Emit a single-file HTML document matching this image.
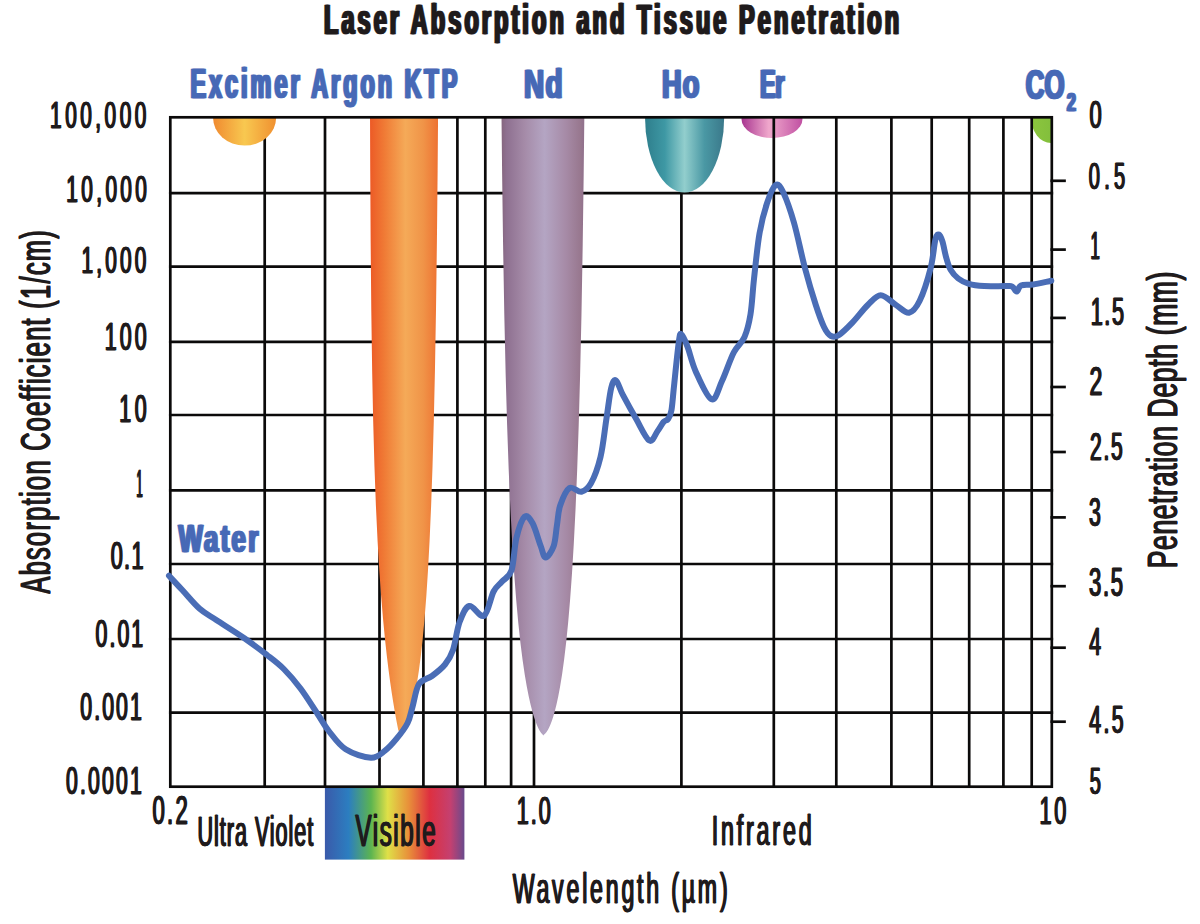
<!DOCTYPE html>
<html><head><meta charset="utf-8"><style>
html,body{margin:0;padding:0;background:#fff;}
svg{display:block;}
text{font-family:"Liberation Sans", sans-serif;}
</style></head><body>
<svg width="1200" height="924" viewBox="0 0 1200 924">
<defs>
<linearGradient id="gEx" x1="0" x2="1" y1="0" y2="0">
  <stop offset="0" stop-color="#f08a30"/><stop offset="0.5" stop-color="#f8c850"/><stop offset="1" stop-color="#f09030"/>
</linearGradient>
<linearGradient id="gKtp" x1="0" x2="1" y1="0" y2="0">
  <stop offset="0" stop-color="#ec5a26"/><stop offset="0.22" stop-color="#f07c36"/><stop offset="0.52" stop-color="#f5aa58"/>
  <stop offset="0.78" stop-color="#f09448"/><stop offset="1" stop-color="#ee7232"/>
</linearGradient>
<linearGradient id="gNd" x1="0" x2="1" y1="0" y2="0">
  <stop offset="0" stop-color="#86667f"/><stop offset="0.06" stop-color="#8e7090"/><stop offset="0.28" stop-color="#a58ba8"/><stop offset="0.52" stop-color="#b4a5c3"/>
  <stop offset="0.78" stop-color="#a68aa6"/><stop offset="0.95" stop-color="#98788f"/><stop offset="1" stop-color="#90708c"/>
</linearGradient>
<linearGradient id="gHo" x1="0" x2="1" y1="0" y2="0">
  <stop offset="0" stop-color="#2e7e8c"/><stop offset="0.25" stop-color="#3e98a4"/><stop offset="0.5" stop-color="#92cecd"/>
  <stop offset="0.75" stop-color="#4a98a4"/><stop offset="1" stop-color="#3a788a"/>
</linearGradient>
<linearGradient id="gEr" x1="0" x2="1" y1="0" y2="0">
  <stop offset="0" stop-color="#a83590"/><stop offset="0.45" stop-color="#f0a8cc"/><stop offset="1" stop-color="#c050a2"/>
</linearGradient>
<linearGradient id="gCo" x1="0" x2="1" y1="0" y2="0">
  <stop offset="0" stop-color="#8cc63e"/><stop offset="1" stop-color="#7ab83a"/>
</linearGradient>
<linearGradient id="gVis" x1="0" x2="1" y1="0" y2="0">
  <stop offset="0" stop-color="#3a5aaa"/><stop offset="0.17" stop-color="#2c7ec0"/><stop offset="0.33" stop-color="#5cb450"/>
  <stop offset="0.45" stop-color="#dfe048"/><stop offset="0.6" stop-color="#e8903a"/><stop offset="0.75" stop-color="#de3040"/>
  <stop offset="0.9" stop-color="#c44070"/><stop offset="1" stop-color="#6a4a8c"/>
</linearGradient>
<clipPath id="plot"><rect x="170.3" y="117.3" width="881.5" height="669.4"/></clipPath>
</defs>
<rect x="0" y="0" width="1200" height="924" fill="#fff"/>

<g clip-path="url(#plot)">
<ellipse cx="772" cy="119" rx="30.5" ry="19" fill="url(#gEr)"/>
<ellipse cx="1051" cy="117" rx="20" ry="26" fill="url(#gCo)"/>
</g>

<rect x="324.9" y="787.8" width="139.5" height="71.8" fill="url(#gVis)"/>
<g stroke="#0b0a0a" stroke-width="2.7" fill="none" stroke-linecap="square">
<line x1="264.7" y1="117.3" x2="264.7" y2="786.7"/>
<line x1="325.0" y1="117.3" x2="325.0" y2="786.7"/>
<line x1="379.5" y1="117.3" x2="379.5" y2="786.7"/>
<line x1="423.4" y1="117.3" x2="423.4" y2="786.7"/>
<line x1="457.4" y1="117.3" x2="457.4" y2="786.7"/>
<line x1="485.3" y1="117.3" x2="485.3" y2="786.7"/>
<line x1="511.1" y1="117.3" x2="511.1" y2="786.7"/>
<line x1="534.0" y1="117.3" x2="534.0" y2="786.7"/>
<line x1="681.4" y1="117.3" x2="681.4" y2="786.7"/>
<line x1="773.8" y1="117.3" x2="773.8" y2="786.7"/>
<line x1="836.3" y1="117.3" x2="836.3" y2="786.7"/>
<line x1="891.4" y1="117.3" x2="891.4" y2="786.7"/>
<line x1="931.7" y1="117.3" x2="931.7" y2="786.7"/>
<line x1="969.2" y1="117.3" x2="969.2" y2="786.7"/>
<line x1="1003.4" y1="117.3" x2="1003.4" y2="786.7"/>
<line x1="1031.7" y1="117.3" x2="1031.7" y2="786.7"/>
<line x1="170.3" y1="193.2" x2="1051.8" y2="193.2"/>
<line x1="170.3" y1="266.7" x2="1051.8" y2="266.7"/>
<line x1="170.3" y1="341.8" x2="1051.8" y2="341.8"/>
<line x1="170.3" y1="415.0" x2="1051.8" y2="415.0"/>
<line x1="170.3" y1="490.4" x2="1051.8" y2="490.4"/>
<line x1="170.3" y1="564.0" x2="1051.8" y2="564.0"/>
<line x1="170.3" y1="639.0" x2="1051.8" y2="639.0"/>
<line x1="170.3" y1="712.6" x2="1051.8" y2="712.6"/>
<line x1="1051.8" y1="180.8" x2="1064.5" y2="180.8"/>
<line x1="1051.8" y1="249.6" x2="1064.5" y2="249.6"/>
<line x1="1051.8" y1="317.9" x2="1064.5" y2="317.9"/>
<line x1="1051.8" y1="387.0" x2="1064.5" y2="387.0"/>
<line x1="1051.8" y1="452.0" x2="1064.5" y2="452.0"/>
<line x1="1051.8" y1="517.4" x2="1064.5" y2="517.4"/>
<line x1="1051.8" y1="586.2" x2="1064.5" y2="586.2"/>
<line x1="1051.8" y1="647.7" x2="1064.5" y2="647.7"/>
<line x1="1051.8" y1="721.7" x2="1064.5" y2="721.7"/>
</g>

<g clip-path="url(#plot)">
<ellipse cx="244.6" cy="118" rx="31.5" ry="27.5" fill="url(#gEx)"/>
<path d="M684.6 117 m-39.6 0 a39.6 75.6 0 0 0 79.2 0 z" fill="url(#gHo)"/>
<path d="M369.99 110.00 L370.23 171.00 L370.64 241.00 L371.30 311.00 L372.16 371.00 L373.18 421.00 L374.44 466.00 L375.92 506.00 L377.58 541.00 L379.35 571.00 L381.13 596.00 L383.05 619.00 L384.98 639.00 L386.85 656.00 L388.69 671.00 L390.31 683.00 L391.77 693.00 L393.02 701.00 L394.18 708.00 L395.04 713.00 L395.76 717.00 L396.50 721.00 L397.08 724.00 L397.47 726.00 L397.87 728.00 L398.08 729.00 L398.28 730.00 L398.39 730.50 L399.75 731.80 L401.99 730.50 L402.56 730.00 L403.43 729.00 L404.15 728.00 L405.34 726.00 L406.35 724.00 L407.64 721.00 L409.11 717.00 L410.38 713.00 L411.78 708.00 L413.49 701.00 L415.16 693.00 L416.97 683.00 L418.83 671.00 L420.80 656.00 L422.68 639.00 L424.54 619.00 L426.33 596.00 L427.95 571.00 L429.57 541.00 L431.11 506.00 L432.53 466.00 L433.80 421.00 L434.93 371.00 L435.98 311.00 L436.92 241.00 L437.63 171.00 L438.11 110.00 Z" fill="url(#gKtp)"/>
<path d="M501.44 110.00 L502.13 174.70 L503.08 244.70 L504.31 314.70 L505.67 374.70 L507.10 424.70 L508.70 469.70 L510.45 509.70 L512.33 544.70 L514.26 574.70 L516.19 599.70 L518.27 622.70 L520.42 642.70 L522.56 659.70 L524.77 674.70 L526.83 686.70 L528.81 696.70 L530.62 704.70 L532.44 711.70 L533.92 716.70 L535.25 720.70 L536.77 724.70 L538.09 727.70 L539.11 729.70 L540.30 731.70 L541.00 732.70 L541.85 733.70 L542.39 734.20 L543.30 735.50 L544.41 734.20 L545.02 733.70 L545.96 732.70 L546.72 731.70 L547.97 729.70 L549.01 727.70 L550.36 724.70 L551.88 720.70 L553.20 716.70 L554.66 711.70 L556.42 704.70 L558.17 696.70 L560.06 686.70 L562.02 674.70 L564.10 659.70 L566.12 642.70 L568.13 622.70 L570.10 599.70 L571.90 574.70 L573.73 544.70 L575.51 509.70 L577.18 469.70 L578.72 424.70 L580.12 374.70 L581.47 314.70 L582.71 244.70 L583.68 174.70 L584.41 110.00 Z" fill="url(#gNd)"/>
</g>

<g stroke="#0b0a0a" stroke-width="2.7" fill="none"><rect x="170.3" y="117.3" width="881.5" height="669.4"/></g>
<path d="M169.0 575.7 C171.2 578.1 177.4 584.8 182.5 590.3 C187.6 595.8 193.8 603.6 199.4 608.6 C205.0 613.6 208.8 615.1 216.3 620.0 C223.8 624.9 236.0 632.4 244.4 638.2 C252.8 644.0 260.4 649.9 267.0 655.0 C273.6 660.1 278.2 663.4 283.8 669.0 C289.4 674.6 295.1 681.3 300.7 688.8 C306.3 696.3 312.9 707.0 317.6 714.0 C322.3 721.0 324.1 725.1 328.8 731.0 C333.5 736.9 338.7 744.8 345.7 749.3 C352.7 753.8 364.4 757.6 371.0 757.8 C377.6 758.0 380.8 753.8 385.0 750.7 C389.2 747.6 392.4 743.8 396.2 739.2 C400.0 734.6 404.9 728.4 407.6 723.0 C410.3 717.6 410.6 713.3 412.5 706.8 C414.4 700.3 415.8 689.1 419.0 684.0 C422.2 678.9 427.7 679.2 432.0 676.0 C436.3 672.8 441.5 668.8 445.0 664.5 C448.5 660.2 450.6 657.0 453.0 650.0 C455.4 643.0 456.8 629.6 459.5 622.3 C462.2 615.0 465.2 607.1 469.3 606.0 C473.4 604.9 479.9 618.2 484.0 615.8 C488.1 613.4 490.6 597.2 493.6 591.5 C496.6 585.8 498.8 585.3 501.8 581.8 C504.8 578.3 509.1 577.7 511.5 570.4 C513.9 563.1 514.2 546.9 516.4 538.0 C518.6 529.1 521.8 519.2 524.5 516.8 C527.2 514.3 529.9 518.4 532.6 523.3 C535.3 528.2 538.5 540.3 540.7 546.0 C542.9 551.7 543.4 557.4 545.6 557.4 C547.8 557.4 551.8 551.4 553.7 546.0 C555.6 540.6 555.9 531.8 557.0 525.0 C558.1 518.2 558.1 511.7 560.2 505.5 C562.3 499.3 566.0 490.3 569.5 488.0 C573.0 485.7 577.8 492.5 581.4 491.7 C585.0 490.9 587.8 489.1 591.0 483.3 C594.2 477.5 597.9 467.7 600.5 457.0 C603.1 446.3 604.6 430.5 606.4 419.0 C608.2 407.5 609.6 394.4 611.2 388.0 C612.8 381.6 614.0 379.3 616.0 380.5 C618.0 381.7 619.6 388.8 623.0 395.2 C626.4 401.6 631.8 411.4 636.2 419.0 C640.6 426.6 645.7 438.5 649.3 440.5 C652.9 442.5 655.2 434.1 657.6 431.0 C660.0 427.9 661.8 424.0 663.5 422.0 C665.2 420.0 666.7 421.0 668.0 419.0 C669.3 417.0 670.5 415.9 671.5 410.0 C672.5 404.1 673.0 394.9 674.3 383.3 C675.5 371.7 677.8 348.6 679.0 340.5 C680.2 332.4 680.0 333.5 681.4 334.5 C682.8 335.5 685.0 340.2 687.4 346.4 C689.8 352.5 691.7 362.6 695.7 371.4 C699.7 380.2 707.1 397.7 711.5 399.3 C715.9 400.9 718.3 388.8 722.0 381.0 C725.7 373.2 730.0 359.7 733.8 352.4 C737.5 345.1 741.7 343.4 744.5 337.0 C747.3 330.6 748.9 324.0 750.5 314.3 C752.1 304.6 752.5 292.4 754.0 279.0 C755.5 265.6 757.3 246.2 759.5 233.6 C761.7 221.0 764.3 211.4 767.0 203.3 C769.7 195.2 773.0 186.8 775.7 185.0 C778.4 183.2 780.2 186.2 783.3 192.5 C786.3 198.8 790.4 210.2 794.0 222.8 C797.6 235.4 801.4 254.6 805.0 268.3 C808.6 282.0 812.6 295.2 815.8 305.0 C819.0 314.8 821.5 321.8 824.0 327.0 C826.5 332.2 828.5 334.7 831.0 336.0 C833.5 337.3 835.4 337.3 839.0 335.0 C842.6 332.7 847.8 327.4 852.6 322.4 C857.4 317.4 863.1 309.5 867.8 305.0 C872.5 300.5 876.1 295.3 880.8 295.3 C885.5 295.3 891.3 302.1 896.0 305.0 C900.7 307.9 905.0 313.4 909.0 312.7 C913.0 312.0 916.1 308.2 919.7 300.8 C923.3 293.4 928.0 278.5 930.6 268.3 C933.2 258.1 934.0 245.1 935.4 239.5 C936.8 233.9 938.0 234.2 939.2 234.6 C940.4 235.0 941.3 237.8 942.5 241.7 C943.7 245.6 944.9 253.2 946.3 257.9 C947.6 262.6 948.6 266.4 950.6 269.8 C952.6 273.2 955.1 276.1 958.2 278.5 C961.3 280.9 964.7 282.6 969.0 283.9 C973.3 285.2 978.1 285.7 984.2 286.1 C990.3 286.5 1001.1 286.0 1005.8 286.1 C1010.5 286.2 1010.5 285.7 1012.3 286.6 C1014.1 287.5 1015.2 291.7 1016.7 291.5 C1018.2 291.3 1018.3 286.7 1021.0 285.5 C1023.7 284.3 1028.0 285.3 1033.0 284.5 C1038.0 283.7 1048.2 281.3 1051.3 280.7" fill="none" stroke="#4a6db6" stroke-width="6" stroke-linecap="round" stroke-linejoin="round"/>
<text transform="translate(323.00 34.40) scale(0.560 1)" font-size="41.86" font-weight="bold" fill="#1f1b1c" stroke="#1f1b1c" stroke-width="0.60" stroke-linejoin="round" letter-spacing="5.55">Laser Absorption and Tissue Penetration</text><text transform="translate(324.00 34.40) scale(0.560 1)" font-size="41.86" font-weight="bold" fill="#1f1b1c" stroke="#1f1b1c" stroke-width="0.60" stroke-linejoin="round" letter-spacing="5.55">Laser Absorption and Tissue Penetration</text><text transform="translate(325.00 34.40) scale(0.560 1)" font-size="41.86" font-weight="bold" fill="#1f1b1c" stroke="#1f1b1c" stroke-width="0.60" stroke-linejoin="round" letter-spacing="5.55">Laser Absorption and Tissue Penetration</text>
<text transform="translate(189.50 98.45) scale(0.560 1)" font-size="41.64" font-weight="bold" fill="#4769b6" stroke="#4769b6" stroke-width="0.60" stroke-linejoin="round" letter-spacing="5.43">Excimer Argon KTP</text><text transform="translate(190.50 98.45) scale(0.560 1)" font-size="41.64" font-weight="bold" fill="#4769b6" stroke="#4769b6" stroke-width="0.60" stroke-linejoin="round" letter-spacing="5.43">Excimer Argon KTP</text><text transform="translate(191.50 98.45) scale(0.560 1)" font-size="41.64" font-weight="bold" fill="#4769b6" stroke="#4769b6" stroke-width="0.60" stroke-linejoin="round" letter-spacing="5.43">Excimer Argon KTP</text>
<text transform="translate(523.00 98.40) scale(0.680 1)" font-size="40.99" font-weight="bold" fill="#4769b6" stroke="#4769b6" stroke-width="0.60" stroke-linejoin="round" letter-spacing="2.00">Nd</text><text transform="translate(524.00 98.40) scale(0.680 1)" font-size="40.99" font-weight="bold" fill="#4769b6" stroke="#4769b6" stroke-width="0.60" stroke-linejoin="round" letter-spacing="2.00">Nd</text><text transform="translate(525.00 98.40) scale(0.680 1)" font-size="40.99" font-weight="bold" fill="#4769b6" stroke="#4769b6" stroke-width="0.60" stroke-linejoin="round" letter-spacing="2.00">Nd</text>
<text transform="translate(661.00 98.40) scale(0.660 1)" font-size="40.99" font-weight="bold" fill="#4769b6" stroke="#4769b6" stroke-width="0.60" stroke-linejoin="round" letter-spacing="2.00">Ho</text><text transform="translate(662.00 98.40) scale(0.660 1)" font-size="40.99" font-weight="bold" fill="#4769b6" stroke="#4769b6" stroke-width="0.60" stroke-linejoin="round" letter-spacing="2.00">Ho</text><text transform="translate(663.00 98.40) scale(0.660 1)" font-size="40.99" font-weight="bold" fill="#4769b6" stroke="#4769b6" stroke-width="0.60" stroke-linejoin="round" letter-spacing="2.00">Ho</text>
<text transform="translate(759.00 98.40) scale(0.570 1)" font-size="40.99" font-weight="bold" fill="#4769b6" stroke="#4769b6" stroke-width="0.60" stroke-linejoin="round" letter-spacing="-0.63">Er</text><text transform="translate(760.00 98.40) scale(0.570 1)" font-size="40.99" font-weight="bold" fill="#4769b6" stroke="#4769b6" stroke-width="0.60" stroke-linejoin="round" letter-spacing="-0.63">Er</text><text transform="translate(761.00 98.40) scale(0.570 1)" font-size="40.99" font-weight="bold" fill="#4769b6" stroke="#4769b6" stroke-width="0.60" stroke-linejoin="round" letter-spacing="-0.63">Er</text>
<text transform="translate(1024.80 98.70) scale(0.600 1)" font-size="42.73" font-weight="bold" fill="#4769b6" stroke="#4769b6" stroke-width="0.60" stroke-linejoin="round" letter-spacing="0.33">CO</text><text transform="translate(1025.80 98.70) scale(0.600 1)" font-size="42.73" font-weight="bold" fill="#4769b6" stroke="#4769b6" stroke-width="0.60" stroke-linejoin="round" letter-spacing="0.33">CO</text><text transform="translate(1026.80 98.70) scale(0.600 1)" font-size="42.73" font-weight="bold" fill="#4769b6" stroke="#4769b6" stroke-width="0.60" stroke-linejoin="round" letter-spacing="0.33">CO</text>
<text transform="translate(1066.07 111.40) scale(0.629 1)" font-size="24.86" font-weight="bold" fill="#4769b6" stroke="#4769b6" stroke-width="0.60" stroke-linejoin="round" letter-spacing="0.00">2</text><text transform="translate(1067.07 111.40) scale(0.629 1)" font-size="24.86" font-weight="bold" fill="#4769b6" stroke="#4769b6" stroke-width="0.60" stroke-linejoin="round" letter-spacing="0.00">2</text><text transform="translate(1068.07 111.40) scale(0.629 1)" font-size="24.86" font-weight="bold" fill="#4769b6" stroke="#4769b6" stroke-width="0.60" stroke-linejoin="round" letter-spacing="0.00">2</text>
<text transform="translate(49.60 127.90) scale(0.550 1)" font-size="37.79" font-weight="normal" fill="#1f1b1c" stroke="#1f1b1c" stroke-width="0.40" stroke-linejoin="round" letter-spacing="6.39">100,000</text><text transform="translate(50.10 127.90) scale(0.550 1)" font-size="37.79" font-weight="normal" fill="#1f1b1c" stroke="#1f1b1c" stroke-width="0.40" stroke-linejoin="round" letter-spacing="6.39">100,000</text><text transform="translate(50.60 127.90) scale(0.550 1)" font-size="37.79" font-weight="normal" fill="#1f1b1c" stroke="#1f1b1c" stroke-width="0.40" stroke-linejoin="round" letter-spacing="6.39">100,000</text>
<text transform="translate(65.80 201.50) scale(0.550 1)" font-size="37.79" font-weight="normal" fill="#1f1b1c" stroke="#1f1b1c" stroke-width="0.40" stroke-linejoin="round" letter-spacing="6.18">10,000</text><text transform="translate(66.30 201.50) scale(0.550 1)" font-size="37.79" font-weight="normal" fill="#1f1b1c" stroke="#1f1b1c" stroke-width="0.40" stroke-linejoin="round" letter-spacing="6.18">10,000</text><text transform="translate(66.80 201.50) scale(0.550 1)" font-size="37.79" font-weight="normal" fill="#1f1b1c" stroke="#1f1b1c" stroke-width="0.40" stroke-linejoin="round" letter-spacing="6.18">10,000</text>
<text transform="translate(81.00 273.00) scale(0.550 1)" font-size="37.79" font-weight="normal" fill="#1f1b1c" stroke="#1f1b1c" stroke-width="0.40" stroke-linejoin="round" letter-spacing="5.86">1,000</text><text transform="translate(81.50 273.00) scale(0.550 1)" font-size="37.79" font-weight="normal" fill="#1f1b1c" stroke="#1f1b1c" stroke-width="0.40" stroke-linejoin="round" letter-spacing="5.86">1,000</text><text transform="translate(82.00 273.00) scale(0.550 1)" font-size="37.79" font-weight="normal" fill="#1f1b1c" stroke="#1f1b1c" stroke-width="0.40" stroke-linejoin="round" letter-spacing="5.86">1,000</text>
<text transform="translate(104.20 349.60) scale(0.550 1)" font-size="38.81" font-weight="normal" fill="#1f1b1c" stroke="#1f1b1c" stroke-width="0.40" stroke-linejoin="round" letter-spacing="5.64">100</text><text transform="translate(104.70 349.60) scale(0.550 1)" font-size="38.81" font-weight="normal" fill="#1f1b1c" stroke="#1f1b1c" stroke-width="0.40" stroke-linejoin="round" letter-spacing="5.64">100</text><text transform="translate(105.20 349.60) scale(0.550 1)" font-size="38.81" font-weight="normal" fill="#1f1b1c" stroke="#1f1b1c" stroke-width="0.40" stroke-linejoin="round" letter-spacing="5.64">100</text>
<text transform="translate(118.80 422.10) scale(0.550 1)" font-size="38.81" font-weight="normal" fill="#1f1b1c" stroke="#1f1b1c" stroke-width="0.40" stroke-linejoin="round" letter-spacing="6.55">10</text><text transform="translate(119.30 422.10) scale(0.550 1)" font-size="38.81" font-weight="normal" fill="#1f1b1c" stroke="#1f1b1c" stroke-width="0.40" stroke-linejoin="round" letter-spacing="6.55">10</text><text transform="translate(119.80 422.10) scale(0.550 1)" font-size="38.81" font-weight="normal" fill="#1f1b1c" stroke="#1f1b1c" stroke-width="0.40" stroke-linejoin="round" letter-spacing="6.55">10</text>
<text transform="translate(136.02 496.60) scale(0.281 1)" font-size="38.81" font-weight="normal" fill="#1f1b1c" stroke="#1f1b1c" stroke-width="0.40" stroke-linejoin="round" letter-spacing="0.00">1</text><text transform="translate(136.52 496.60) scale(0.281 1)" font-size="38.81" font-weight="normal" fill="#1f1b1c" stroke="#1f1b1c" stroke-width="0.40" stroke-linejoin="round" letter-spacing="0.00">1</text><text transform="translate(137.02 496.60) scale(0.281 1)" font-size="38.81" font-weight="normal" fill="#1f1b1c" stroke="#1f1b1c" stroke-width="0.40" stroke-linejoin="round" letter-spacing="0.00">1</text>
<text transform="translate(110.20 569.10) scale(0.550 1)" font-size="39.39" font-weight="normal" fill="#1f1b1c" stroke="#1f1b1c" stroke-width="0.40" stroke-linejoin="round" letter-spacing="2.45">0.1</text><text transform="translate(110.70 569.10) scale(0.550 1)" font-size="39.39" font-weight="normal" fill="#1f1b1c" stroke="#1f1b1c" stroke-width="0.40" stroke-linejoin="round" letter-spacing="2.45">0.1</text><text transform="translate(111.20 569.10) scale(0.550 1)" font-size="39.39" font-weight="normal" fill="#1f1b1c" stroke="#1f1b1c" stroke-width="0.40" stroke-linejoin="round" letter-spacing="2.45">0.1</text>
<text transform="translate(95.00 647.00) scale(0.550 1)" font-size="38.66" font-weight="normal" fill="#1f1b1c" stroke="#1f1b1c" stroke-width="0.40" stroke-linejoin="round" letter-spacing="3.82">0.01</text><text transform="translate(95.50 647.00) scale(0.550 1)" font-size="38.66" font-weight="normal" fill="#1f1b1c" stroke="#1f1b1c" stroke-width="0.40" stroke-linejoin="round" letter-spacing="3.82">0.01</text><text transform="translate(96.00 647.00) scale(0.550 1)" font-size="38.66" font-weight="normal" fill="#1f1b1c" stroke="#1f1b1c" stroke-width="0.40" stroke-linejoin="round" letter-spacing="3.82">0.01</text>
<text transform="translate(79.80 719.60) scale(0.550 1)" font-size="38.52" font-weight="normal" fill="#1f1b1c" stroke="#1f1b1c" stroke-width="0.40" stroke-linejoin="round" letter-spacing="3.82">0.001</text><text transform="translate(80.30 719.60) scale(0.550 1)" font-size="38.52" font-weight="normal" fill="#1f1b1c" stroke="#1f1b1c" stroke-width="0.40" stroke-linejoin="round" letter-spacing="3.82">0.001</text><text transform="translate(80.80 719.60) scale(0.550 1)" font-size="38.52" font-weight="normal" fill="#1f1b1c" stroke="#1f1b1c" stroke-width="0.40" stroke-linejoin="round" letter-spacing="3.82">0.001</text>
<text transform="translate(65.60 794.10) scale(0.550 1)" font-size="38.37" font-weight="normal" fill="#1f1b1c" stroke="#1f1b1c" stroke-width="0.40" stroke-linejoin="round" letter-spacing="4.00">0.0001</text><text transform="translate(66.10 794.10) scale(0.550 1)" font-size="38.37" font-weight="normal" fill="#1f1b1c" stroke="#1f1b1c" stroke-width="0.40" stroke-linejoin="round" letter-spacing="4.00">0.0001</text><text transform="translate(66.60 794.10) scale(0.550 1)" font-size="38.37" font-weight="normal" fill="#1f1b1c" stroke="#1f1b1c" stroke-width="0.40" stroke-linejoin="round" letter-spacing="4.00">0.0001</text>
<text transform="translate(1089.00 128.10) scale(0.574 1)" font-size="38.08" font-weight="normal" fill="#1f1b1c" stroke="#1f1b1c" stroke-width="0.40" stroke-linejoin="round" letter-spacing="0.00">0</text><text transform="translate(1089.50 128.10) scale(0.574 1)" font-size="38.08" font-weight="normal" fill="#1f1b1c" stroke="#1f1b1c" stroke-width="0.40" stroke-linejoin="round" letter-spacing="0.00">0</text><text transform="translate(1090.00 128.10) scale(0.574 1)" font-size="38.08" font-weight="normal" fill="#1f1b1c" stroke="#1f1b1c" stroke-width="0.40" stroke-linejoin="round" letter-spacing="0.00">0</text>
<text transform="translate(1088.20 188.80) scale(0.550 1)" font-size="36.34" font-weight="normal" fill="#1f1b1c" stroke="#1f1b1c" stroke-width="0.40" stroke-linejoin="round" letter-spacing="7.91">0.5</text><text transform="translate(1088.70 188.80) scale(0.550 1)" font-size="36.34" font-weight="normal" fill="#1f1b1c" stroke="#1f1b1c" stroke-width="0.40" stroke-linejoin="round" letter-spacing="7.91">0.5</text><text transform="translate(1089.20 188.80) scale(0.550 1)" font-size="36.34" font-weight="normal" fill="#1f1b1c" stroke="#1f1b1c" stroke-width="0.40" stroke-linejoin="round" letter-spacing="7.91">0.5</text>
<text transform="translate(1089.90 259.20) scale(0.437 1)" font-size="38.08" font-weight="normal" fill="#1f1b1c" stroke="#1f1b1c" stroke-width="0.40" stroke-linejoin="round" letter-spacing="0.00">1</text><text transform="translate(1090.40 259.20) scale(0.437 1)" font-size="38.08" font-weight="normal" fill="#1f1b1c" stroke="#1f1b1c" stroke-width="0.40" stroke-linejoin="round" letter-spacing="0.00">1</text><text transform="translate(1090.90 259.20) scale(0.437 1)" font-size="38.08" font-weight="normal" fill="#1f1b1c" stroke="#1f1b1c" stroke-width="0.40" stroke-linejoin="round" letter-spacing="0.00">1</text>
<text transform="translate(1090.20 324.90) scale(0.550 1)" font-size="39.24" font-weight="normal" fill="#1f1b1c" stroke="#1f1b1c" stroke-width="0.40" stroke-linejoin="round" letter-spacing="2.91">1.5</text><text transform="translate(1090.70 324.90) scale(0.550 1)" font-size="39.24" font-weight="normal" fill="#1f1b1c" stroke="#1f1b1c" stroke-width="0.40" stroke-linejoin="round" letter-spacing="2.91">1.5</text><text transform="translate(1091.20 324.90) scale(0.550 1)" font-size="39.24" font-weight="normal" fill="#1f1b1c" stroke="#1f1b1c" stroke-width="0.40" stroke-linejoin="round" letter-spacing="2.91">1.5</text>
<text transform="translate(1088.94 394.60) scale(0.575 1)" font-size="40.12" font-weight="normal" fill="#1f1b1c" stroke="#1f1b1c" stroke-width="0.40" stroke-linejoin="round" letter-spacing="0.00">2</text><text transform="translate(1089.44 394.60) scale(0.575 1)" font-size="40.12" font-weight="normal" fill="#1f1b1c" stroke="#1f1b1c" stroke-width="0.40" stroke-linejoin="round" letter-spacing="0.00">2</text><text transform="translate(1089.94 394.60) scale(0.575 1)" font-size="40.12" font-weight="normal" fill="#1f1b1c" stroke="#1f1b1c" stroke-width="0.40" stroke-linejoin="round" letter-spacing="0.00">2</text>
<text transform="translate(1089.40 459.80) scale(0.550 1)" font-size="38.08" font-weight="normal" fill="#1f1b1c" stroke="#1f1b1c" stroke-width="0.40" stroke-linejoin="round" letter-spacing="3.36">2.5</text><text transform="translate(1089.90 459.80) scale(0.550 1)" font-size="38.08" font-weight="normal" fill="#1f1b1c" stroke="#1f1b1c" stroke-width="0.40" stroke-linejoin="round" letter-spacing="3.36">2.5</text><text transform="translate(1090.40 459.80) scale(0.550 1)" font-size="38.08" font-weight="normal" fill="#1f1b1c" stroke="#1f1b1c" stroke-width="0.40" stroke-linejoin="round" letter-spacing="3.36">2.5</text>
<text transform="translate(1088.57 525.50) scale(0.530 1)" font-size="39.97" font-weight="normal" fill="#1f1b1c" stroke="#1f1b1c" stroke-width="0.40" stroke-linejoin="round" letter-spacing="0.00">3</text><text transform="translate(1089.07 525.50) scale(0.530 1)" font-size="39.97" font-weight="normal" fill="#1f1b1c" stroke="#1f1b1c" stroke-width="0.40" stroke-linejoin="round" letter-spacing="0.00">3</text><text transform="translate(1089.57 525.50) scale(0.530 1)" font-size="39.97" font-weight="normal" fill="#1f1b1c" stroke="#1f1b1c" stroke-width="0.40" stroke-linejoin="round" letter-spacing="0.00">3</text>
<text transform="translate(1088.60 595.60) scale(0.550 1)" font-size="39.97" font-weight="normal" fill="#1f1b1c" stroke="#1f1b1c" stroke-width="0.40" stroke-linejoin="round" letter-spacing="2.91">3.5</text><text transform="translate(1089.10 595.60) scale(0.550 1)" font-size="39.97" font-weight="normal" fill="#1f1b1c" stroke="#1f1b1c" stroke-width="0.40" stroke-linejoin="round" letter-spacing="2.91">3.5</text><text transform="translate(1089.60 595.60) scale(0.550 1)" font-size="39.97" font-weight="normal" fill="#1f1b1c" stroke="#1f1b1c" stroke-width="0.40" stroke-linejoin="round" letter-spacing="2.91">3.5</text>
<text transform="translate(1088.78 655.30) scale(0.552 1)" font-size="38.23" font-weight="normal" fill="#1f1b1c" stroke="#1f1b1c" stroke-width="0.40" stroke-linejoin="round" letter-spacing="0.00">4</text><text transform="translate(1089.28 655.30) scale(0.552 1)" font-size="38.23" font-weight="normal" fill="#1f1b1c" stroke="#1f1b1c" stroke-width="0.40" stroke-linejoin="round" letter-spacing="0.00">4</text><text transform="translate(1089.78 655.30) scale(0.552 1)" font-size="38.23" font-weight="normal" fill="#1f1b1c" stroke="#1f1b1c" stroke-width="0.40" stroke-linejoin="round" letter-spacing="0.00">4</text>
<text transform="translate(1088.80 732.50) scale(0.550 1)" font-size="38.52" font-weight="normal" fill="#1f1b1c" stroke="#1f1b1c" stroke-width="0.40" stroke-linejoin="round" letter-spacing="4.27">4.5</text><text transform="translate(1089.30 732.50) scale(0.550 1)" font-size="38.52" font-weight="normal" fill="#1f1b1c" stroke="#1f1b1c" stroke-width="0.40" stroke-linejoin="round" letter-spacing="4.27">4.5</text><text transform="translate(1089.80 732.50) scale(0.550 1)" font-size="38.52" font-weight="normal" fill="#1f1b1c" stroke="#1f1b1c" stroke-width="0.40" stroke-linejoin="round" letter-spacing="4.27">4.5</text>
<text transform="translate(1089.22 794.30) scale(0.529 1)" font-size="37.79" font-weight="normal" fill="#1f1b1c" stroke="#1f1b1c" stroke-width="0.40" stroke-linejoin="round" letter-spacing="0.00">5</text><text transform="translate(1089.72 794.30) scale(0.529 1)" font-size="37.79" font-weight="normal" fill="#1f1b1c" stroke="#1f1b1c" stroke-width="0.40" stroke-linejoin="round" letter-spacing="0.00">5</text><text transform="translate(1090.22 794.30) scale(0.529 1)" font-size="37.79" font-weight="normal" fill="#1f1b1c" stroke="#1f1b1c" stroke-width="0.40" stroke-linejoin="round" letter-spacing="0.00">5</text>
<text transform="translate(152.00 823.80) scale(0.550 1)" font-size="40.12" font-weight="normal" fill="#1f1b1c" stroke="#1f1b1c" stroke-width="0.40" stroke-linejoin="round" letter-spacing="4.27">0.2</text><text transform="translate(152.50 823.80) scale(0.550 1)" font-size="40.12" font-weight="normal" fill="#1f1b1c" stroke="#1f1b1c" stroke-width="0.40" stroke-linejoin="round" letter-spacing="4.27">0.2</text><text transform="translate(153.00 823.80) scale(0.550 1)" font-size="40.12" font-weight="normal" fill="#1f1b1c" stroke="#1f1b1c" stroke-width="0.40" stroke-linejoin="round" letter-spacing="4.27">0.2</text>
<text transform="translate(516.20 823.80) scale(0.550 1)" font-size="39.10" font-weight="normal" fill="#1f1b1c" stroke="#1f1b1c" stroke-width="0.40" stroke-linejoin="round" letter-spacing="3.82">1.0</text><text transform="translate(516.70 823.80) scale(0.550 1)" font-size="39.10" font-weight="normal" fill="#1f1b1c" stroke="#1f1b1c" stroke-width="0.40" stroke-linejoin="round" letter-spacing="3.82">1.0</text><text transform="translate(517.20 823.80) scale(0.550 1)" font-size="39.10" font-weight="normal" fill="#1f1b1c" stroke="#1f1b1c" stroke-width="0.40" stroke-linejoin="round" letter-spacing="3.82">1.0</text>
<text transform="translate(1039.00 823.80) scale(0.550 1)" font-size="39.39" font-weight="normal" fill="#1f1b1c" stroke="#1f1b1c" stroke-width="0.40" stroke-linejoin="round" letter-spacing="4.73">10</text><text transform="translate(1039.50 823.80) scale(0.550 1)" font-size="39.39" font-weight="normal" fill="#1f1b1c" stroke="#1f1b1c" stroke-width="0.40" stroke-linejoin="round" letter-spacing="4.73">10</text><text transform="translate(1040.00 823.80) scale(0.550 1)" font-size="39.39" font-weight="normal" fill="#1f1b1c" stroke="#1f1b1c" stroke-width="0.40" stroke-linejoin="round" letter-spacing="4.73">10</text>
<text transform="translate(197.00 845.60) scale(0.500 1)" font-size="43.02" font-weight="normal" fill="#1f1b1c" stroke="#1f1b1c" stroke-width="0.40" stroke-linejoin="round" letter-spacing="2.00">Ultra Violet</text><text transform="translate(197.50 845.60) scale(0.500 1)" font-size="43.02" font-weight="normal" fill="#1f1b1c" stroke="#1f1b1c" stroke-width="0.40" stroke-linejoin="round" letter-spacing="2.00">Ultra Violet</text><text transform="translate(198.00 845.60) scale(0.500 1)" font-size="43.02" font-weight="normal" fill="#1f1b1c" stroke="#1f1b1c" stroke-width="0.40" stroke-linejoin="round" letter-spacing="2.00">Ultra Violet</text>
<text transform="translate(355.00 845.70) scale(0.550 1)" font-size="43.75" font-weight="normal" fill="#1f1b1c" stroke="#1f1b1c" stroke-width="0.40" stroke-linejoin="round" letter-spacing="2.91">Visible</text><text transform="translate(355.50 845.70) scale(0.550 1)" font-size="43.75" font-weight="normal" fill="#1f1b1c" stroke="#1f1b1c" stroke-width="0.40" stroke-linejoin="round" letter-spacing="2.91">Visible</text><text transform="translate(356.00 845.70) scale(0.550 1)" font-size="43.75" font-weight="normal" fill="#1f1b1c" stroke="#1f1b1c" stroke-width="0.40" stroke-linejoin="round" letter-spacing="2.91">Visible</text>
<text transform="translate(711.20 845.30) scale(0.550 1)" font-size="42.30" font-weight="normal" fill="#1f1b1c" stroke="#1f1b1c" stroke-width="0.40" stroke-linejoin="round" letter-spacing="5.12">Infrared</text><text transform="translate(711.70 845.30) scale(0.550 1)" font-size="42.30" font-weight="normal" fill="#1f1b1c" stroke="#1f1b1c" stroke-width="0.40" stroke-linejoin="round" letter-spacing="5.12">Infrared</text><text transform="translate(712.20 845.30) scale(0.550 1)" font-size="42.30" font-weight="normal" fill="#1f1b1c" stroke="#1f1b1c" stroke-width="0.40" stroke-linejoin="round" letter-spacing="5.12">Infrared</text>
<text transform="translate(512.20 903.10) scale(0.550 1)" font-size="42.01" font-weight="normal" fill="#1f1b1c" stroke="#1f1b1c" stroke-width="0.40" stroke-linejoin="round" letter-spacing="5.12">Wavelength (µm)</text><text transform="translate(512.70 903.10) scale(0.550 1)" font-size="42.01" font-weight="normal" fill="#1f1b1c" stroke="#1f1b1c" stroke-width="0.40" stroke-linejoin="round" letter-spacing="5.12">Wavelength (µm)</text><text transform="translate(513.20 903.10) scale(0.550 1)" font-size="42.01" font-weight="normal" fill="#1f1b1c" stroke="#1f1b1c" stroke-width="0.40" stroke-linejoin="round" letter-spacing="5.12">Wavelength (µm)</text>
<text transform="translate(177.40 552.10) scale(0.660 1)" font-size="38.95" font-weight="bold" fill="#4769b6" stroke="#4769b6" stroke-width="0.60" stroke-linejoin="round" letter-spacing="3.52">Water</text><text transform="translate(178.40 552.10) scale(0.660 1)" font-size="38.95" font-weight="bold" fill="#4769b6" stroke="#4769b6" stroke-width="0.60" stroke-linejoin="round" letter-spacing="3.52">Water</text><text transform="translate(179.40 552.10) scale(0.660 1)" font-size="38.95" font-weight="bold" fill="#4769b6" stroke="#4769b6" stroke-width="0.60" stroke-linejoin="round" letter-spacing="3.52">Water</text>
<g transform="translate(50.00 594.00) rotate(-90)"><text transform="translate(0.00 0.00) scale(0.600 1)" font-size="42.15" font-weight="normal" fill="#1f1b1c" stroke="#1f1b1c" stroke-width="0.40" stroke-linejoin="round" letter-spacing="2.24">Absorption Coefficient (1/cm)</text><text transform="translate(0.50 0.00) scale(0.600 1)" font-size="42.15" font-weight="normal" fill="#1f1b1c" stroke="#1f1b1c" stroke-width="0.40" stroke-linejoin="round" letter-spacing="2.24">Absorption Coefficient (1/cm)</text><text transform="translate(1.00 0.00) scale(0.600 1)" font-size="42.15" font-weight="normal" fill="#1f1b1c" stroke="#1f1b1c" stroke-width="0.40" stroke-linejoin="round" letter-spacing="2.24">Absorption Coefficient (1/cm)</text></g>
<g transform="translate(1177.20 568.80) rotate(-90)"><text transform="translate(0.00 0.00) scale(0.620 1)" font-size="42.73" font-weight="normal" fill="#1f1b1c" stroke="#1f1b1c" stroke-width="0.40" stroke-linejoin="round" letter-spacing="1.08">Penetration Depth (mm)</text><text transform="translate(0.50 0.00) scale(0.620 1)" font-size="42.73" font-weight="normal" fill="#1f1b1c" stroke="#1f1b1c" stroke-width="0.40" stroke-linejoin="round" letter-spacing="1.08">Penetration Depth (mm)</text><text transform="translate(1.00 0.00) scale(0.620 1)" font-size="42.73" font-weight="normal" fill="#1f1b1c" stroke="#1f1b1c" stroke-width="0.40" stroke-linejoin="round" letter-spacing="1.08">Penetration Depth (mm)</text></g>
</svg>
</body></html>
